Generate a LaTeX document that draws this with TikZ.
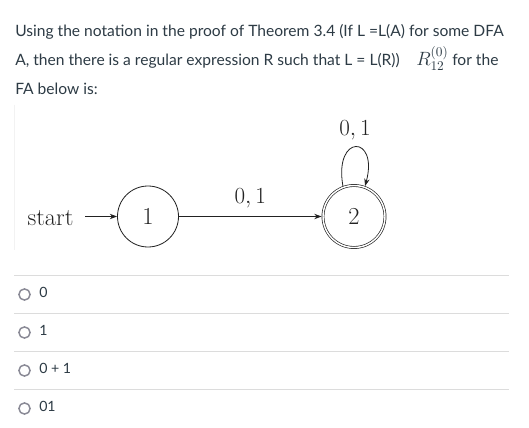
\documentclass[tikz,border=0pt]{standalone}
\usepackage{fontspec}
\newfontfamily\lato{Lato}
\usetikzlibrary{arrows.meta}
\definecolor{qtext}{HTML}{2D3B45}
\definecolor{sepline}{HTML}{DCDCDC}
\definecolor{radio}{HTML}{8B8B97}
\definecolor{faint}{HTML}{F2F2F2}
\definecolor{ink}{HTML}{222222}
\tikzset{
  qline/.style={anchor=base west, inner sep=0pt, font=\lato\fontsize{11.7}{14}\selectfont, text=qtext},
  optlabel/.style={anchor=base west, inner sep=0pt, font=\lato\fontsize{10.6}{12}\selectfont, text=qtext},
  radiobtn/.style={circle, draw=radio, line width=1.1pt, minimum size=8.4pt, inner sep=0pt},
  sep/.style={draw=sepline, line width=0.75pt},
  fa/.style={font=\fontsize{18.3}{20}\selectfont, text=ink},
  state/.style={fa, circle, draw=ink, line width=0.6pt, minimum size=45.75pt, inner sep=0pt},
  accept/.style={double, double distance=1.1pt, line width=0.5pt, minimum size=46.5pt, outer sep=1.05pt},
  edge/.style={draw=ink, line width=0.6pt, -{Stealth[length=5.5pt,width=4pt]}},
  elabel/.style={fa, inner sep=0pt, anchor=base}
}
\begin{document}
\begin{tikzpicture}[x=0.75pt,y=-0.75pt]
\useasboundingbox[fill=white] (0,0) rectangle (529,428);
% question
\node[qline] (l1) at (15,37) {Using the notation in the proof of Theorem 3.4 (If L =L(A) for some DFA};
\node[qline] (l2) at (15,66) {A, then there is a regular expression R such that L = L(R))};
\node[anchor=base west, inner sep=0pt, font=\fontsize{14.4}{16}\selectfont, text=qtext] (rmath) at (416,66) {$R^{(0)}_{12}$};
\node[qline] (l2b) at (452,66) {for the};
\node[qline] (l3) at (15,95) {FA below is:};
% faint frame
\draw[faint, line width=0.75pt] (14,105) -- (14,250);
% automaton
\node[fa, anchor=base, inner sep=0pt] (start) at (50.5,225) {start};
\node[state] (q1) at (148,216.5) {1};
\node[state, accept] (q2) at (354,216.5) {2};
\coordinate (st) at (85,216.5);
\draw[edge] (st) -- (q1);
\draw[edge] (q1) -- node[elabel, midway, yshift=10.1pt] (lab12) {$0,1$} (q2);
\draw[edge] (q2.110) .. controls +(100:40pt) and +(75:40pt) .. (q2.70);
\node[elabel] (lab22) at (355,136) {$0,1$};
% options
\foreach \y in {275,313,351,389} \draw[sep] (14,\y) -- (509,\y);
\node[radiobtn] (r1) at (24.5,294.5) {};
\node[radiobtn] (r2) at (24.5,332.5) {};
\node[radiobtn] (r3) at (24.5,370.5) {};
\node[radiobtn] (r4) at (24.5,408.5) {};
\node[optlabel] (o1) at (39,297) {0};
\node[optlabel] (o2) at (39,335) {1};
\node[optlabel] (o3) at (39,373) {0 + 1};
\node[optlabel] (o4) at (39,411) {01};
\end{tikzpicture}
\end{document}
